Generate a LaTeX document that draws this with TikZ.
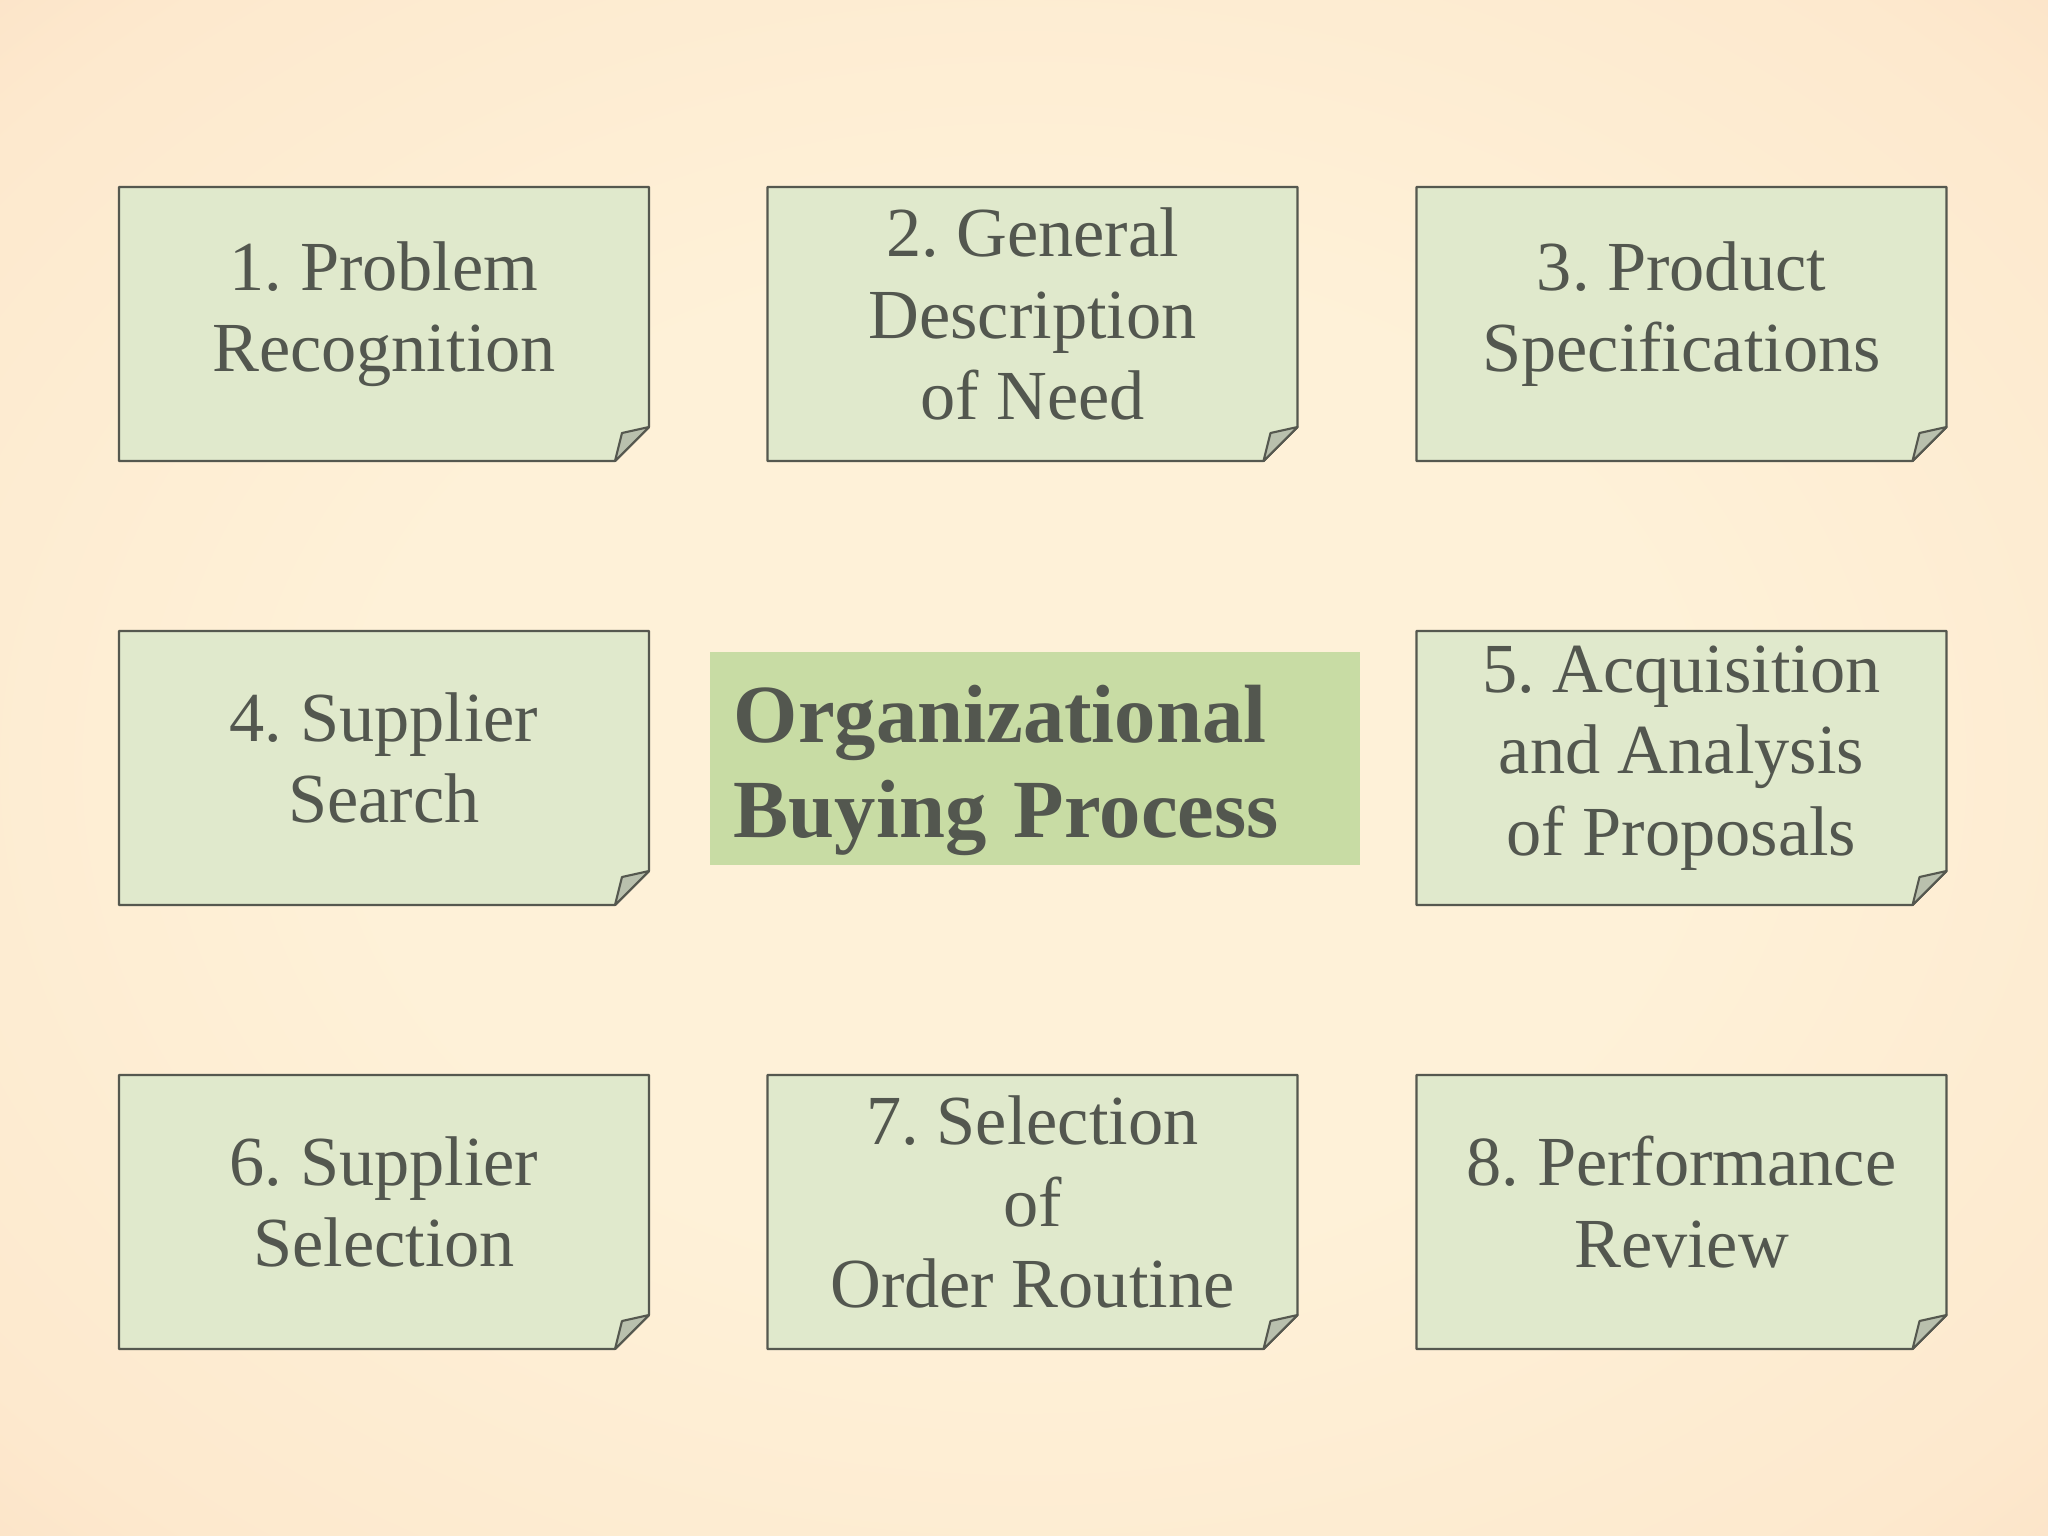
\documentclass[tikz,border=0pt]{standalone}
\usepackage{fontspec}
\setmainfont{Liberation Serif}
\usetikzlibrary{backgrounds}

\definecolor{bgin}{HTML}{FEF1D8}
\definecolor{bgmid}{HTML}{FDE9CE}
\definecolor{bgedge}{HTML}{F9D6B8}
\definecolor{bgout}{HTML}{F6C9AC}
\definecolor{notefill}{HTML}{E0E9CC}
\definecolor{foldfill}{HTML}{B9C0AD}
\definecolor{titlefill}{HTML}{C8DCA4}
\definecolor{edgegray}{HTML}{55584F}
\definecolor{inkgray}{HTML}{53574F}

\pgfdeclareradialshading{bgglow}{\pgfpoint{0bp}{0bp}}{color(0bp)=(bgin); color(16bp)=(bgin); color(32bp)=(bgmid); color(48bp)=(bgedge); color(71bp)=(bgout)}

\begin{document}
\frenchspacing
\begin{tikzpicture}[x=0.01cm, y=-0.01cm,
  notetext/.style={align=center, text=inkgray, font=\fontsize{20}{23.2}\selectfont},
  noteline/.style={draw=edgegray, line width=0.6pt, fill=notefill, line join=round},
  foldline/.style={draw=edgegray, line width=0.6pt, fill=foldfill, line join=round},
  titletext/.style={text width=6.02cm, align=left, text=inkgray, inner sep=0pt,
    font=\fontsize{23.5}{27}\selectfont\bfseries}]
\useasboundingbox (0,0) rectangle (2048,1536);

% the eight steps
\node[notetext] (n1) at (384,314) {1. Problem\\Recognition};
\node[notetext] (n2) at (1032.5,314) {2. General\\Description\\of Need};
\node[notetext] (n3) at (1681.5,314) {3. Product\\Specifications};
\node[notetext] (n4) at (384,758) {4. Supplier\\Search};
\node[notetext] (n5) at (1681.5,758) {5. Acquisition\\and Analysis\\of Proposals};
\node[notetext] (n6) at (384,1202) {6. Supplier\\Selection};
\node[notetext] (n7) at (1032.5,1202) {7. Selection\\of\\Order Routine};
\node[notetext] (n8) at (1681.5,1202) {8. Performance\\Review};

% centre title
\node[titletext] (ttl) at (1035,770) {Organizational\\Buying Process};

\begin{scope}[on background layer]
\shade[shading=bgglow] (0,0) rectangle (2048,1536);
\fill[titlefill] ([shift={(-325,-118)}]ttl.center) rectangle ([shift={(325,95)}]ttl.center);
\foreach \i in {1,...,8} {
  \draw[noteline] ([shift={(-265,-127)}]n\i.center) -- ([shift={(265,-127)}]n\i.center)
    -- ([shift={(265,113)}]n\i.center) -- ([shift={(231,147)}]n\i.center)
    -- ([shift={(-265,147)}]n\i.center) -- cycle;
  \draw[foldline] ([shift={(231,147)}]n\i.center) -- ([shift={(238,119)}]n\i.center)
    -- ([shift={(265,113)}]n\i.center) -- cycle;
}
\end{scope}
\end{tikzpicture}
\end{document}
